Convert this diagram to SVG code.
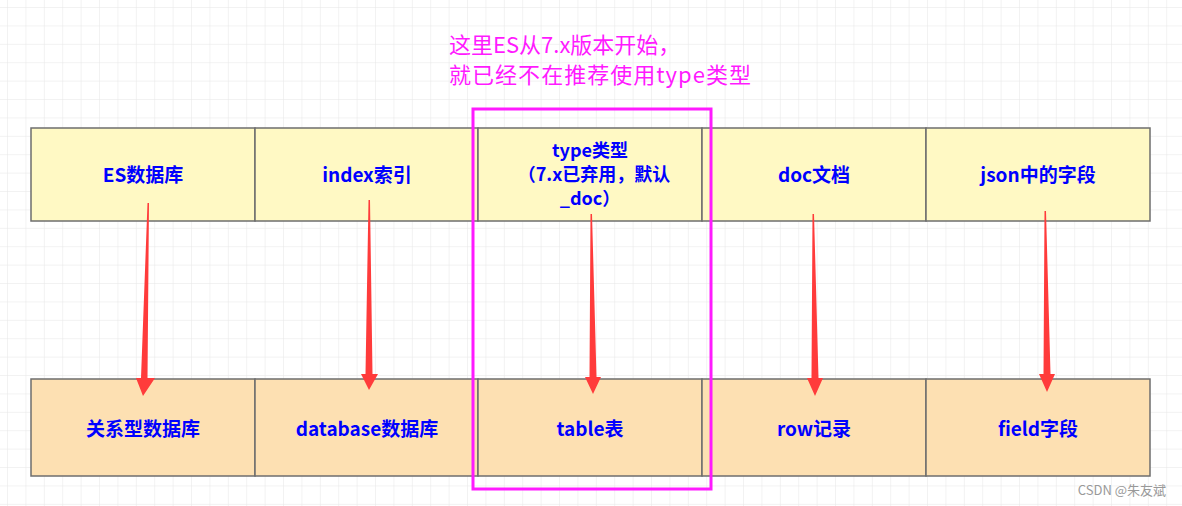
<svg xmlns="http://www.w3.org/2000/svg" width="1182" height="506" viewBox="0 0 1182 506">
<defs>
<pattern id="g" width="18.4" height="18.4" patternUnits="userSpaceOnUse" x="8" y="8">
<path d="M18.4 0V18.4M0 18.4H18.4" fill="none" stroke="#e6e6e6" stroke-width="1"/>
</pattern>
<style>
.t{fill:#fff9c4;stroke:#6e6e6e;stroke-width:1.5}
.b{fill:#fde0b2;stroke:#6e6e6e;stroke-width:1.5}
text{font-family:"Noto Sans CJK SC","Noto Sans",sans-serif;font-weight:bold;font-size:19px;fill:#0000ff;text-anchor:middle}
.a{fill:#ff3b3b}
.n{font-weight:normal;font-size:22px;fill:#ff1aff;text-anchor:start}
</style>
</defs>
<rect width="1182" height="506" fill="#fff"/>
<rect width="1182" height="506" fill="url(#g)"/>
<g id="es"><rect class="t" x="31" y="128" width="224" height="93"/><text x="143" y="182">ES数据库</text></g>
<g id="index"><rect class="t" x="255" y="128" width="223" height="93"/><text x="367" y="182">index索引</text></g>
<g id="type"><rect class="t" x="478" y="128" width="224" height="93"/><text x="590" y="157" style="font-size:18px">type类型</text><text x="594" y="181" style="font-size:18px">（7.x已弃用，默认</text><text x="590" y="205" style="font-size:18px">_doc）</text></g>
<g id="doc"><rect class="t" x="702" y="128" width="224" height="93"/><text x="814" y="182">doc文档</text></g>
<g id="json"><rect class="t" x="926" y="128" width="224" height="93"/><text x="1038" y="182">json中的字段</text></g>
<g id="rdb"><rect class="b" x="31" y="379" width="224" height="97"/><text x="143" y="436">关系型数据库</text></g>
<g id="database"><rect class="b" x="255" y="379" width="223" height="97"/><text x="367" y="436">database数据库</text></g>
<g id="table"><rect class="b" x="478" y="379" width="224" height="97"/><text x="590" y="436">table表</text></g>
<g id="row"><rect class="b" x="702" y="379" width="224" height="97"/><text x="814" y="436">row记录</text></g>
<g id="field"><rect class="b" x="926" y="379" width="224" height="97"/><text x="1038" y="436">field字段</text></g>
<g id="connectors">
<polygon class="a" points="147.5,203 149,203 147.5,378 155,378 143,396 136,378 141,378"/>
<polygon class="a" points="368.5,200 370,200 372.5,374 378,374 369,390 361,374 365.5,374"/>
<polygon class="a" points="590.5,214 592,214 596.5,377 601,377 593,394 585,377 589.5,377"/>
<polygon class="a" points="812.5,214 814,214 818.5,378 823,378 815,396 807,378 811.5,378"/>
<polygon class="a" points="1044.5,211 1046,211 1050.5,374 1055,374 1047,392 1039,374 1043.5,374"/>
</g>
<g id="note">
<rect x="473" y="109" width="238" height="380" fill="none" stroke="#ff1aff" stroke-width="3"/>
<text class="n" x="449" y="53">这里ES从7.x版本开始，</text>
<text class="n" x="449" y="83" textLength="302">就已经不在推荐使用type类型</text>
</g>
<text x="1166" y="495" style="font-weight:normal;font-size:13px;fill:#999;text-anchor:end">CSDN @朱友斌</text>
</svg>
